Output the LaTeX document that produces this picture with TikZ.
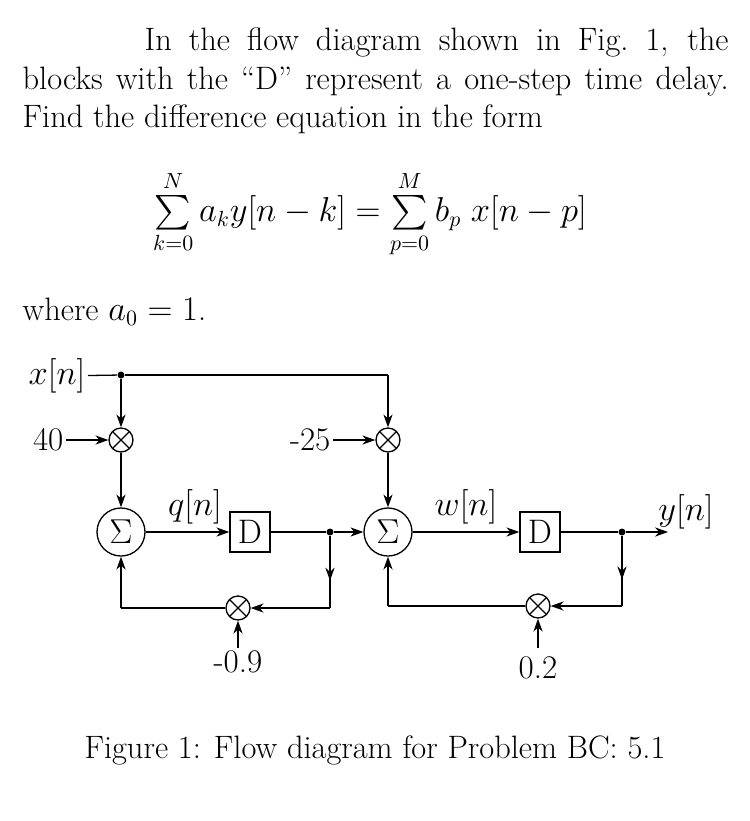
\documentclass[tikz,border=0pt]{standalone}
\usepackage{fontspec}
\usepackage{amsmath}
\usetikzlibrary{arrows.meta,decorations.markings}
\begin{document}
\begin{tikzpicture}[x=0.5pt,y=-0.5pt,line width=0.65pt,
  tip/.style={-{Stealth[length=6.5pt,width=4.6pt]}},
  midarrow/.style={postaction={decorate},decoration={markings,mark=at position #1 with {\arrow{Stealth[length=6.5pt,width=4.6pt]}}}},
  mult/.style={circle,draw,minimum size=12pt,inner sep=0pt,path picture={\draw (path picture bounding box.north west)--(path picture bounding box.south east) (path picture bounding box.north east)--(path picture bounding box.south west);}},
  summ/.style={circle,draw,minimum size=24pt,inner sep=0pt,font=\fontsize{16}{16}\selectfont},
  dbox/.style={draw,minimum size=20pt,inner sep=0pt,font=\rmfamily\fontsize{17}{17}\selectfont},
  lab/.style={font=\rmfamily\fontsize{16.5}{16}\selectfont,inner sep=1pt},
  dot/.style={circle,fill,inner sep=0pt,minimum size=3.5pt}]
\useasboundingbox (0,0) rectangle (750,821);
\node[anchor=north west,text width=353pt,align=justify,inner sep=0pt,font=\fontsize{16.2}{19.3}\selectfont] (txt) at (22,27)
 {\hspace*{61pt}In the flow diagram shown in Fig.~1, the blocks with the ``D'' represent a one-step time delay. Find the difference equation in the form};
\node[font=\fontsize{16.2}{19}\selectfont] (eq) at (370,214) {$\sum\limits_{k=0}^{N} a_k y[n-k] = \sum\limits_{p=0}^{M} b_p\; x[n-p]$};
\node[anchor=west,font=\fontsize{16.2}{19}\selectfont,inner sep=0pt] (wh) at (22,312) {where $a_0 = 1$.};
\node[font=\fontsize{16.2}{19}\selectfont] (cap) at (375,750) {Figure 1: Flow diagram for Problem BC: 5.1};
% diagram
\node[lab,anchor=east] (x) at (88,376) {$x[n]$};
\node[dot] (d0) at (121,375) {};
\node[mult] (m1) at (121,440) {};
\node[lab,anchor=east] (c40) at (66,440) {40};
\node[summ] (s1) at (121,532) {$\Sigma$};
\node[dbox] (D1) at (250,532) {D};
\node[lab] (q) at (195,507) {$q[n]$};
\node[dot] (d1) at (330,532) {};
\node[mult] (m3) at (238,608) {};
\node[lab] (c09) at (238,662) {-0.9};
\coordinate (b1) at (330,608);
\coordinate (l1) at (121,608);
\coordinate (k09) at (238,648);
\coordinate (t1) at (388,375);
\node[mult] (m2) at (388,440) {};
\node[lab,anchor=east] (c25) at (333,440) {-25};
\node[summ] (s2) at (388,532) {$\Sigma$};
\node[lab] (w) at (466,507) {$w[n]$};
\node[dbox] (D2) at (540,532) {D};
\node[dot] (d2) at (622,532) {};
\coordinate (b2) at (622,606);
\coordinate (l2) at (388,606);
\node[mult] (m4) at (538,606) {};
\node[lab] (c02) at (538,668) {0.2};
\coordinate (k02) at (538,648);
\coordinate (ye) at (668,532);
\node[lab] (y) at (686,512) {$y[n]$};
% connectors
\draw (x) -- (d0);
\draw[tip] (d0) -- (m1);
\draw (d0) -- (t1);
\draw[tip] (t1) -- (m2);
\draw[tip] (c40) -- (m1);
\draw[tip] (c25) -- (m2);
\draw[tip] (m1) -- (s1);
\draw[tip] (m2) -- (s2);
\draw[tip] (s1) -- (D1);
\draw (D1) -- (d1);
\draw[tip] (d1) -- (s2);
\draw[midarrow=0.62] (d1) -- (b1);
\draw[tip] (b1) -- (m3);
\draw (m3) -- (l1);
\draw[tip] (l1) -- (s1);
\draw[tip] (k09) -- (m3);
\draw[tip] (s2) -- (D2);
\draw (D2) -- (d2);
\draw[tip] (d2) -- (ye);
\draw[midarrow=0.62] (d2) -- (b2);
\draw[tip] (b2) -- (m4);
\draw (m4) -- (l2);
\draw[tip] (l2) -- (s2);
\draw[tip] (k02) -- (m4);
\end{tikzpicture}
\end{document}
